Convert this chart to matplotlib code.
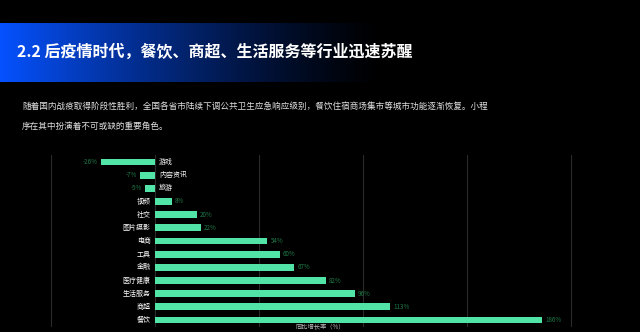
import numpy as np
import matplotlib
matplotlib.use("Agg")
from matplotlib import pyplot as plt

plt.rcParams['font.family'] = ['Noto Sans CJK SC', 'DejaVu Sans']

# data
categories = ["游戏", "内容资讯", "旅游", "视频", "社交", "图片摄影", "电商",
              "工具", "金融", "医疗健康", "生活服务", "商超", "餐饮"]
growth = [-26, -7, -5, 8, 20, 22, 54, 60, 67, 82, 96, 113, 186]
xticks = [-50, 0, 50, 100, 150, 200]

title = "2.2 后疫情时代，餐饮、商超、生活服务等行业迅速苏醒"
para1 = "随着国内战疫取得阶段性胜利，全国各省市陆续下调公共卫生应急响应级别，餐饮住宿商场集市等城市功能逐渐恢复。小程"
para2 = "序在其中扮演着不可或缺的重要角色。"

W, H = 640, 332
fig = plt.figure(figsize=(6.4, 3.32), dpi=100)
fig.patch.set_facecolor("black")

# title banner with blue -> black gradient
ban = fig.add_axes([0, 1 - 82 / H, 1, 59 / H])
t = np.linspace(0, 1, 400)
k = np.clip(1 - t / 0.6, 0, 1) ** 1.3
grad = np.zeros((2, 400, 3))
grad[:, :, 0] = 0.02 * k
grad[:, :, 1] = 0.32 * k
grad[:, :, 2] = 1.0 * k
ban.imshow(grad, aspect="auto", extent=[0, 1, 0, 1])
ban.axis("off")
fig.text(17 / W, 1 - 52 / H, title, color="white", fontsize=11.5,
         fontweight="bold", va="center", ha="left")

fig.text(22 / W, 1 - 106 / H, para1, color="#e0e0e0", fontsize=6.2, va="center")
fig.text(22 / W, 1 - 126 / H, para2, color="#e0e0e0", fontsize=6.2, va="center")

# bar chart
ppu = 2.08
x0 = 155
xmin, xmax = -60, 210
left = x0 + xmin * ppu
right = x0 + xmax * ppu
ax = fig.add_axes([left / W, 1 - 327 / H, (right - left) / W, (327 - 155) / H])
ax.set_facecolor("black")
y = np.arange(len(categories))
ax.barh(y, growth, height=0.52, color="#52e3a6", zorder=3)
ax.set_xlim(xmin, xmax)
ax.set_ylim(12.53, -0.53)
for xt in xticks:
    ax.axvline(xt, color="#2a2a2a", lw=0.8, zorder=1)
for s in ax.spines.values():
    s.set_visible(False)
ax.set_xticks([])
ax.set_yticks([])

for yi, v, c in zip(y, growth, categories):
    if v >= 0:
        ax.text(-2, yi, c, color="white", fontsize=5, ha="right", va="center")
        ax.text(v + 1.5, yi, f"{v}%", color="#1f7a48", fontsize=4.5, ha="left", va="center")
    else:
        ax.text(2, yi, c, color="white", fontsize=5, ha="left", va="center")
        ax.text(v - 1.5, yi, f"{v}%", color="#1f7a48", fontsize=4.5, ha="right", va="center")

fig.text(320 / W, 1 / H, "同比增长率（%）", color="#bbbbbb", fontsize=4.5,
         ha="center", va="bottom")

fig.savefig("out.png", dpi=100, facecolor=fig.get_facecolor())
